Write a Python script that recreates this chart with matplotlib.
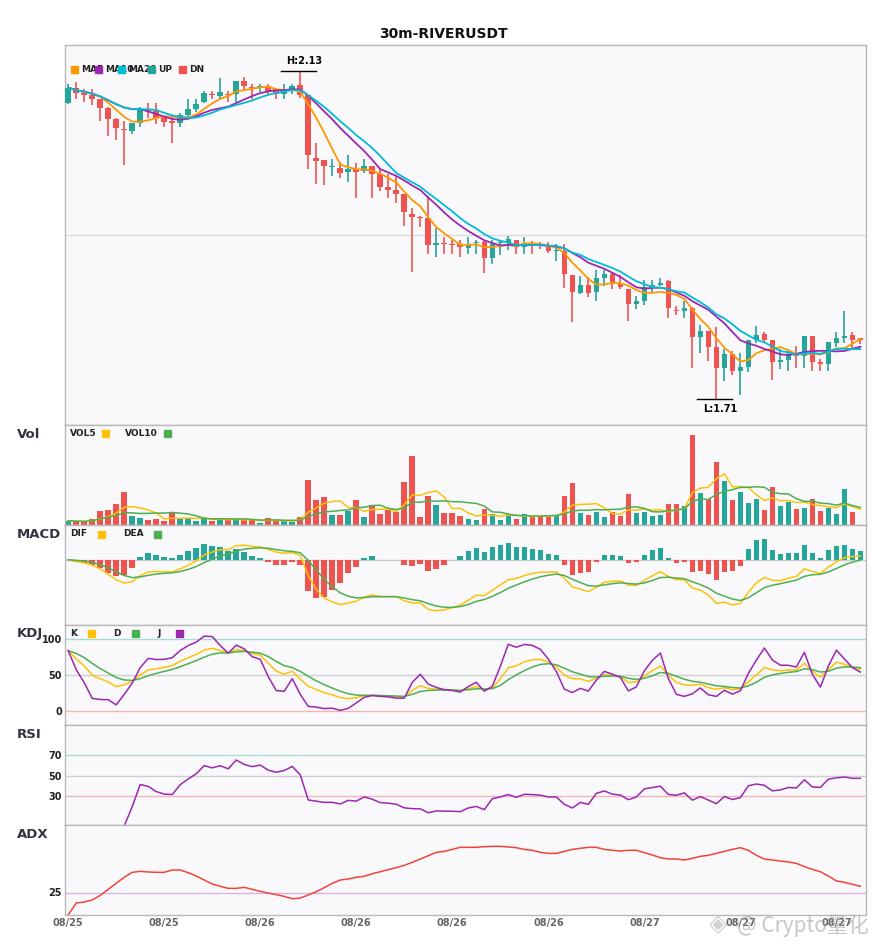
import numpy as np
import pandas as pd
import matplotlib
matplotlib.use("Agg")
import matplotlib.pyplot as plt
from matplotlib.patches import Rectangle

W, H = 885, 950

symbol = "RIVERUSDT"
interval = "30m"
start_time = "2025-08-25 14:00"

opens = [2.089, 2.109, 2.102, 2.100, 2.094, 2.083, 2.069, 2.056, 2.053, 2.064,
         2.081, 2.079, 2.070, 2.065, 2.063, 2.074, 2.081, 2.090, 2.100, 2.098,
         2.101, 2.101, 2.118, 2.109, 2.108, 2.111, 2.107, 2.101, 2.106, 2.112,
         2.099, 2.019, 2.016, 2.007, 2.006, 2.001, 2.004, 2.002, 2.008, 1.998,
         1.981, 1.978, 1.972, 1.947, 1.943, 1.942, 1.907, 1.910, 1.908, 1.908,
         1.903, 1.910, 1.911, 1.891, 1.910, 1.910, 1.914, 1.904, 1.909, 1.907,
         1.906, 1.899, 1.900, 1.869, 1.845, 1.856, 1.847, 1.865, 1.870, 1.857,
         1.851, 1.832, 1.835, 1.853, 1.856, 1.861, 1.824, 1.823, 1.827, 1.789,
         1.797, 1.776, 1.749, 1.767, 1.746, 1.751, 1.786, 1.793, 1.786, 1.757,
         1.760, 1.767, 1.765, 1.790, 1.757, 1.755, 1.782, 1.788, 1.792, 1.787]
highs = [2.113, 2.116, 2.107, 2.107, 2.095, 2.084, 2.070, 2.066, 2.064, 2.084,
         2.089, 2.089, 2.071, 2.071, 2.076, 2.094, 2.095, 2.104, 2.104, 2.121,
         2.104, 2.118, 2.123, 2.114, 2.114, 2.114, 2.107, 2.113, 2.114, 2.130,
         2.101, 2.038, 2.016, 2.017, 2.014, 2.023, 2.012, 2.018, 2.008, 2.004,
         1.998, 1.996, 1.972, 1.954, 1.945, 1.970, 1.929, 1.917, 1.913, 1.913,
         1.917, 1.914, 1.913, 1.913, 1.913, 1.919, 1.914, 1.917, 1.912, 1.911,
         1.911, 1.909, 1.909, 1.869, 1.868, 1.866, 1.875, 1.875, 1.872, 1.869,
         1.851, 1.842, 1.862, 1.862, 1.865, 1.862, 1.829, 1.835, 1.828, 1.804,
         1.797, 1.802, 1.774, 1.771, 1.769, 1.786, 1.803, 1.796, 1.786, 1.774,
         1.774, 1.778, 1.790, 1.790, 1.761, 1.783, 1.795, 1.822, 1.795, 1.788]
lows = [2.088, 2.094, 2.091, 2.087, 2.066, 2.047, 2.042, 2.010, 2.050, 2.058,
        2.070, 2.062, 2.058, 2.038, 2.058, 2.071, 2.078, 2.089, 2.094, 2.094,
        2.091, 2.090, 2.106, 2.094, 2.103, 2.099, 2.095, 2.094, 2.101, 2.096,
        2.005, 1.985, 1.984, 1.996, 1.993, 1.988, 1.967, 1.999, 1.967, 1.976,
        1.967, 1.961, 1.932, 1.872, 1.930, 1.895, 1.892, 1.896, 1.895, 1.892,
        1.896, 1.896, 1.871, 1.883, 1.894, 1.901, 1.895, 1.896, 1.895, 1.902,
        1.897, 1.887, 1.852, 1.808, 1.844, 1.840, 1.836, 1.855, 1.851, 1.851,
        1.810, 1.825, 1.830, 1.847, 1.854, 1.814, 1.817, 1.814, 1.750, 1.769,
        1.759, 1.710, 1.733, 1.740, 1.715, 1.744, 1.782, 1.781, 1.734, 1.748,
        1.746, 1.750, 1.750, 1.746, 1.746, 1.746, 1.776, 1.782, 1.772, 1.780]
closes = [2.109, 2.102, 2.100, 2.094, 2.083, 2.069, 2.057, 2.054, 2.064, 2.082,
          2.079, 2.070, 2.065, 2.064, 2.074, 2.081, 2.088, 2.102, 2.099, 2.103,
          2.099, 2.117, 2.111, 2.108, 2.111, 2.104, 2.101, 2.104, 2.111, 2.099,
          2.022, 2.015, 2.008, 2.008, 1.999, 2.005, 2.001, 2.008, 1.998, 1.981,
          1.978, 1.972, 1.949, 1.943, 1.942, 1.907, 1.910, 1.908, 1.907, 1.904,
          1.909, 1.911, 1.891, 1.908, 1.911, 1.915, 1.904, 1.909, 1.908, 1.906,
          1.900, 1.900, 1.870, 1.847, 1.856, 1.845, 1.865, 1.870, 1.857, 1.853,
          1.831, 1.836, 1.853, 1.856, 1.859, 1.826, 1.822, 1.827, 1.789, 1.797,
          1.776, 1.749, 1.767, 1.746, 1.751, 1.786, 1.792, 1.786, 1.757, 1.760,
          1.767, 1.765, 1.790, 1.757, 1.755, 1.783, 1.788, 1.791, 1.786, 1.786]
volumes = [43, 33, 33, 60, 136, 153, 213, 326, 93, 66,
           53, 63, 36, 116, 70, 66, 36, 73, 36, 73,
           50, 50, 50, 50, 16, 73, 40, 40, 26, 83,
           453, 253, 283, 103, 103, 136, 253, 83, 203, 113,
           150, 126, 433, 696, 83, 293, 203, 123, 123, 93,
           63, 53, 163, 110, 53, 110, 63, 110, 83, 83,
           93, 100, 293, 423, 123, 103, 133, 83, 133, 93,
           313, 123, 133, 93, 103, 213, 213, 193, 903, 323,
           263, 633, 443, 253, 333, 223, 263, 153, 383, 193,
           233, 163, 173, 263, 143, 173, 113, 363, 133, 5]
adx_vals = [0.0, 13.3, 14.4, 16.7, 21.8, 28.5, 35.2, 41.9, 47.4, 48.5,
            47.8, 47.4, 47.4, 50.0, 50.0, 47.0, 43.3, 38.9, 34.4, 31.9,
            29.6, 29.6, 30.7, 28.5, 26.3, 24.4, 22.6, 20.7, 18.1, 18.9,
            22.2, 25.9, 30.4, 35.2, 38.9, 40.0, 41.9, 43.0, 45.9, 48.1,
            50.4, 52.6, 55.2, 58.5, 62.2, 65.9, 69.6, 70.7, 72.9, 75.2,
            75.2, 75.2, 75.9, 76.3, 76.3, 75.6, 74.8, 72.9, 71.9, 69.6,
            68.5, 68.5, 70.7, 72.9, 74.1, 75.2, 75.2, 72.9, 71.9, 71.1,
            71.9, 71.9, 69.3, 66.7, 63.7, 62.2, 62.2, 61.1, 63.0, 65.2,
            66.3, 68.5, 70.7, 72.9, 74.8, 71.9, 66.3, 62.2, 61.1, 60.0,
            58.9, 57.4, 53.7, 50.7, 48.1, 43.3, 37.8, 36.3, 34.1, 31.9]

ma_periods = [5, 10, 12]
ma_labels = ["MA5", "MA10", "MA20"]
macd_fast, macd_slow, macd_signal = 6, 13, 5
kdj_n = 9
rsi_n = 14

UP = "#26a69a"
DN = "#ef5350"
MA_COLORS = ["#ff9800", "#9c27b0", "#00bcd4"]
YEL = "#ffc107"
GRN = "#4caf50"
PUR = "#9c27b0"
BG = "#f9f9fb"
SPINE = "#b8b8b8"
TXT = "#333340"

df = pd.DataFrame({"open": opens, "high": highs, "low": lows,
                   "close": closes, "volume": volumes})
df.index = pd.date_range(start_time, periods=len(df), freq="30min")
n = len(df)
x = np.arange(n)
is_up = (df.close >= df.open).values
colors = np.where(is_up, UP, DN)

# indicators
mas = [df.close.rolling(p, min_periods=1).mean() for p in ma_periods]
vol5 = df.volume.rolling(5, min_periods=1).mean()
vol10 = df.volume.rolling(10, min_periods=1).mean()

ema_f = df.close.ewm(span=macd_fast, adjust=False).mean()
ema_s = df.close.ewm(span=macd_slow, adjust=False).mean()
dif = ema_f - ema_s
dea = dif.ewm(span=macd_signal, adjust=False).mean()
hist = 2 * (dif - dea)

low_n = df.low.rolling(kdj_n, min_periods=1).min()
high_n = df.high.rolling(kdj_n, min_periods=1).max()
rsv = (df.close - low_n) / (high_n - low_n) * 100
k = rsv.ewm(com=2, adjust=False).mean()
d = k.ewm(com=2, adjust=False).mean()
j = 3 * k - 2 * d

delta = df.close.diff()
gain = delta.clip(lower=0).ewm(com=rsi_n - 1).mean()
loss = (-delta.clip(upper=0)).ewm(com=rsi_n - 1).mean()
rsi = 100 * gain / (gain + loss)


fig = plt.figure(figsize=(W / 100, H / 100), dpi=100)
fig.patch.set_facecolor("white")

LEFT, RIGHT = 65, 866


def panel(top, bottom):
    ax = fig.add_axes([LEFT / W, 1 - bottom / H, (RIGHT - LEFT) / W, (bottom - top) / H])
    ax.set_facecolor(BG)
    for s in ax.spines.values():
        s.set_color(SPINE)
        s.set_linewidth(1)
    ax.set_xlim(-0.4, n - 0.3)
    ax.tick_params(axis="x", length=0, labelbottom=False)
    ax.tick_params(axis="y", length=0, pad=2, labelsize=7, labelcolor="#222")
    ax.set_yticks([])
    return ax


def sq(xp, yp, color, size=7):
    fig.add_artist(Rectangle((xp / W, 1 - (yp + size / 2) / H), size / W, size / H,
                             transform=fig.transFigure, color=color, zorder=6))


def txt(xp, yp, s, **kw):
    opts = dict(fontsize=6.5, fontweight="bold", va="center", ha="left", color="#222", zorder=5)
    opts.update(kw)
    fig.text(xp / W, 1 - yp / H, s, **opts)


ax_main = panel(45, 425)
ax_vol = panel(425, 525)
ax_macd = panel(525, 625)
ax_kdj = panel(625, 725)
ax_rsi = panel(725, 825)
ax_adx = panel(825, 915)

# main candles
hi_val, lo_val = df.high.max(), df.low.min()
rng = hi_val - lo_val
ax_main.axhline((hi_val + lo_val) / 2, color="#dddddd", lw=1, zorder=1)
ax_main.vlines(x, df.low, df.high, colors=colors, lw=1.2, zorder=2)
body_lo = np.minimum(df.open, df.close)
body_h = np.maximum(np.abs(df.close - df.open), 0.0016)
ax_main.bar(x, body_h, bottom=body_lo, width=0.7, color=colors, zorder=3)
for ma, c in zip(mas, MA_COLORS):
    ax_main.plot(x, ma, color=c, lw=1.3, zorder=4)
ax_main.set_ylim(lo_val - 0.08 * rng, hi_val + 0.08 * rng)

ih = int(df.high.values.argmax())
il = int(df.low.values.argmin())
ax_main.plot([ih - 2.4, ih + 2.0], [hi_val, hi_val], color="black", lw=1, zorder=5)
ax_main.annotate(f"H:{hi_val:.2f}", (ih + 0.5, hi_val), xytext=(0, 7), textcoords="offset points",
                 ha="center", va="center", fontsize=7, fontweight="bold")
ax_main.plot([il - 2.4, il + 2.0], [lo_val, lo_val], color="black", lw=1, zorder=5)
ax_main.annotate(f"L:{lo_val:.2f}", (il + 0.5, lo_val), xytext=(0, -7), textcoords="offset points",
                 ha="center", va="center", fontsize=7, fontweight="bold")

# main legend (square, then label; the next square covers the tail of the label)
for xp, lab, c in [(71, ma_labels[0], MA_COLORS[0]), (95, ma_labels[1], MA_COLORS[1]),
                   (118, ma_labels[2], MA_COLORS[2]), (148, "UP", UP), (179, "DN", DN)]:
    sq(xp, 69, c)
    txt(xp + 10, 69, lab)

# volume
ax_vol.bar(x, df.volume, width=0.7, color=colors, zorder=2)
ax_vol.plot(x, vol5, color=YEL, lw=1.1, zorder=3)
ax_vol.plot(x, vol10, color=GRN, lw=1.1, zorder=3)
ax_vol.set_ylim(0, df.volume.max() * 1.11)
txt(70, 433, "VOL5")
sq(102, 433, YEL)
txt(125, 433, "VOL10")
sq(164, 433, GRN)

# MACD
ax_macd.axhline(0, color="#cccccc", lw=1, zorder=1)
ax_macd.bar(x, hist, width=0.7, color=np.where(hist >= 0, UP, DN), zorder=2)
ax_macd.plot(x, dif, color=YEL, lw=1.1, zorder=3)
ax_macd.plot(x, dea, color=GRN, lw=1.1, zorder=3)
mlo = min(dif.min(), dea.min(), hist.min())
mhi = max(dif.max(), dea.max(), hist.max())
mr = mhi - mlo
ax_macd.set_ylim(mlo - 0.2 * mr, mhi + 0.2 * mr)
txt(70, 534, "DIF")
sq(98, 534, YEL)
txt(123, 534, "DEA")
sq(154, 534, GRN)

# KDJ
ax_kdj.axhline(100, color="#a9dcd4", lw=1, zorder=1)
ax_kdj.axhline(50, color="#cfcfcf", lw=1, zorder=1)
ax_kdj.axhline(0, color="#f6b4b4", lw=1, zorder=1)
ax_kdj.plot(x, k, color=YEL, lw=1.1, zorder=3)
ax_kdj.plot(x, d, color=GRN, lw=1.1, zorder=3)
ax_kdj.plot(x, j, color=PUR, lw=1.1, zorder=3)
ax_kdj.set_ylim(-20, 120)
ax_kdj.set_yticks([0, 50, 100])
for t in ax_kdj.get_yticklabels():
    t.set_fontweight("bold")
txt(70, 633, "K")
sq(88, 633, YEL)
txt(113, 633, "D")
sq(132, 633, GRN)
txt(157, 633, "J")
sq(176, 633, PUR)

# RSI
ax_rsi.axhline(70, color="#a9dcd4", lw=1, zorder=1)
ax_rsi.axhline(50, color="#cfcfcf", lw=1, zorder=1)
ax_rsi.axhline(30, color="#f6b4b4", lw=1, zorder=1)
ax_rsi.plot(x, rsi, color=PUR, lw=1.1, zorder=2)
ax_rsi.set_ylim(1, 100)
ax_rsi.set_yticks([30, 50, 70])
for t in ax_rsi.get_yticklabels():
    t.set_fontweight("bold")

# ADX
ax_adx.axhline(25, color="#dcb2e6", lw=1, zorder=1)
ax_adx.plot(x, adx_vals, color="#f44336", lw=1.1, zorder=3)
ax_adx.set_ylim(0, 100)
ax_adx.set_yticks([25])
for t in ax_adx.get_yticklabels():
    t.set_fontweight("bold")
tick_idx = x[::12]
ax_adx.set_xticks(tick_idx)
ax_adx.set_xticklabels([df.index[i].strftime("%m/%d") for i in tick_idx])
ax_adx.tick_params(axis="x", labelbottom=True, pad=2, labelsize=7, labelcolor="#666")
for t in ax_adx.get_xticklabels():
    t.set_fontweight("bold")

# panel names and title
for yp, name in [(434, "Vol"), (535, "MACD"), (634, "KDJ"), (734, "RSI"), (835, "ADX")]:
    txt(17, yp, name, fontsize=9.5, color=TXT)
fig.text(443 / W, 1 - 34 / H, f"{interval}-{symbol}", ha="center", va="center",
         fontsize=10, fontweight="bold", color="#111")

# watermark
fig.text(718 / W, 1 - 924 / H, "◈", ha="center", va="center", fontsize=17,
         color="#999999", alpha=0.45, zorder=7)
fig.text(737 / W, 1 - 926 / H, "@ Crypto量化", ha="left", va="center", fontsize=15,
         color="#999999", alpha=0.55, family=["Noto Sans CJK SC", "DejaVu Sans"], zorder=7)

fig.savefig("out.png", dpi=100, facecolor="white")
